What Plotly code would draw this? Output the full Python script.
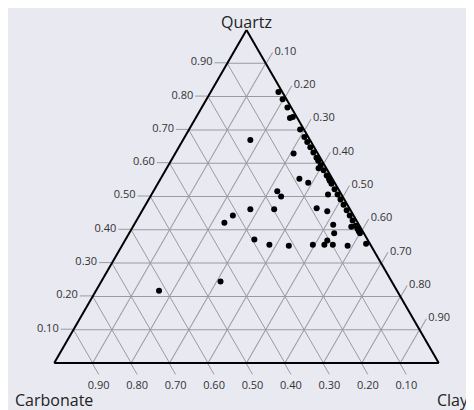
import plotly.graph_objects as go

# points lying on the quartz-clay edge (almost no carbonate)
edge_quartz = [0.814, 0.792, 0.767, 0.739, 0.701, 0.679, 0.664, 0.648, 0.632, 0.616,
               0.607, 0.594, 0.579, 0.563, 0.547, 0.538, 0.522, 0.506, 0.491, 0.475,
               0.459, 0.443, 0.428, 0.412, 0.403, 0.396, 0.390, 0.358]
edge_carbonate = [0.01] * len(edge_quartz)

# scattered points
int_quartz = [0.736, 0.670, 0.629, 0.585, 0.553, 0.541, 0.516, 0.500, 0.506, 0.553,
              0.462, 0.462, 0.465, 0.456, 0.421, 0.443, 0.415, 0.390, 0.409, 0.371,
              0.355, 0.352, 0.355, 0.355, 0.368, 0.355, 0.352, 0.217, 0.245]
int_clay = [0.245, 0.175, 0.308, 0.395, 0.361, 0.390, 0.322, 0.340, 0.459, 0.438,
            0.279, 0.341, 0.450, 0.482, 0.232, 0.243, 0.518, 0.533, 0.568, 0.335,
            0.382, 0.434, 0.495, 0.525, 0.526, 0.547, 0.587, 0.164, 0.310]

quartz = edge_quartz + int_quartz
carbonate = edge_carbonate + [round(1 - q - c, 3) for q, c in zip(int_quartz, int_clay)]
clay = [round(1 - q - b, 3) for q, b in zip(edge_quartz, edge_carbonate)] + int_clay

ticks = [0.1, 0.2, 0.3, 0.4, 0.5, 0.6, 0.7, 0.8, 0.9]

fig = go.Figure(go.Scatterternary(
    a=quartz, b=carbonate, c=clay,
    mode='markers',
    marker=dict(color='black', size=6),
))

def axis():
    return dict(
        title=dict(text=''),
        min=0, tickvals=ticks, tickformat='.2f',
        tickfont=dict(size=11, color='#333'),
        linecolor='black', linewidth=2,
        gridcolor='#9a9aa2', gridwidth=1,
        ticks='outside', ticklen=12, tickcolor='#9a9aa2',
        showgrid=True,
    )

title_font = dict(size=16, color='#222')
fig.update_layout(
    width=474, height=410,
    paper_bgcolor='#e9e9f1',
    font=dict(family='Open Sans'),
    showlegend=False,
    margin=dict(l=46, r=43, t=22, b=55),
    ternary=dict(
        bgcolor='#e9e9f1',
        sum=1,
        aaxis=axis(),
        baxis=axis(),
        caxis=axis(),
    ),
    annotations=[
        dict(text='Quartz', x=0.5, y=1.024, xref='paper', yref='paper',
             xanchor='center', yanchor='middle', showarrow=False, font=title_font),
        dict(text='Carbonate', x=-0.106, y=-0.111, xref='paper', yref='paper',
             xanchor='left', yanchor='middle', showarrow=False, font=title_font),
        dict(text='Clay', x=1.083, y=-0.111, xref='paper', yref='paper',
             xanchor='right', yanchor='middle', showarrow=False, font=title_font),
    ],
)

fig.write_html('out.html')
